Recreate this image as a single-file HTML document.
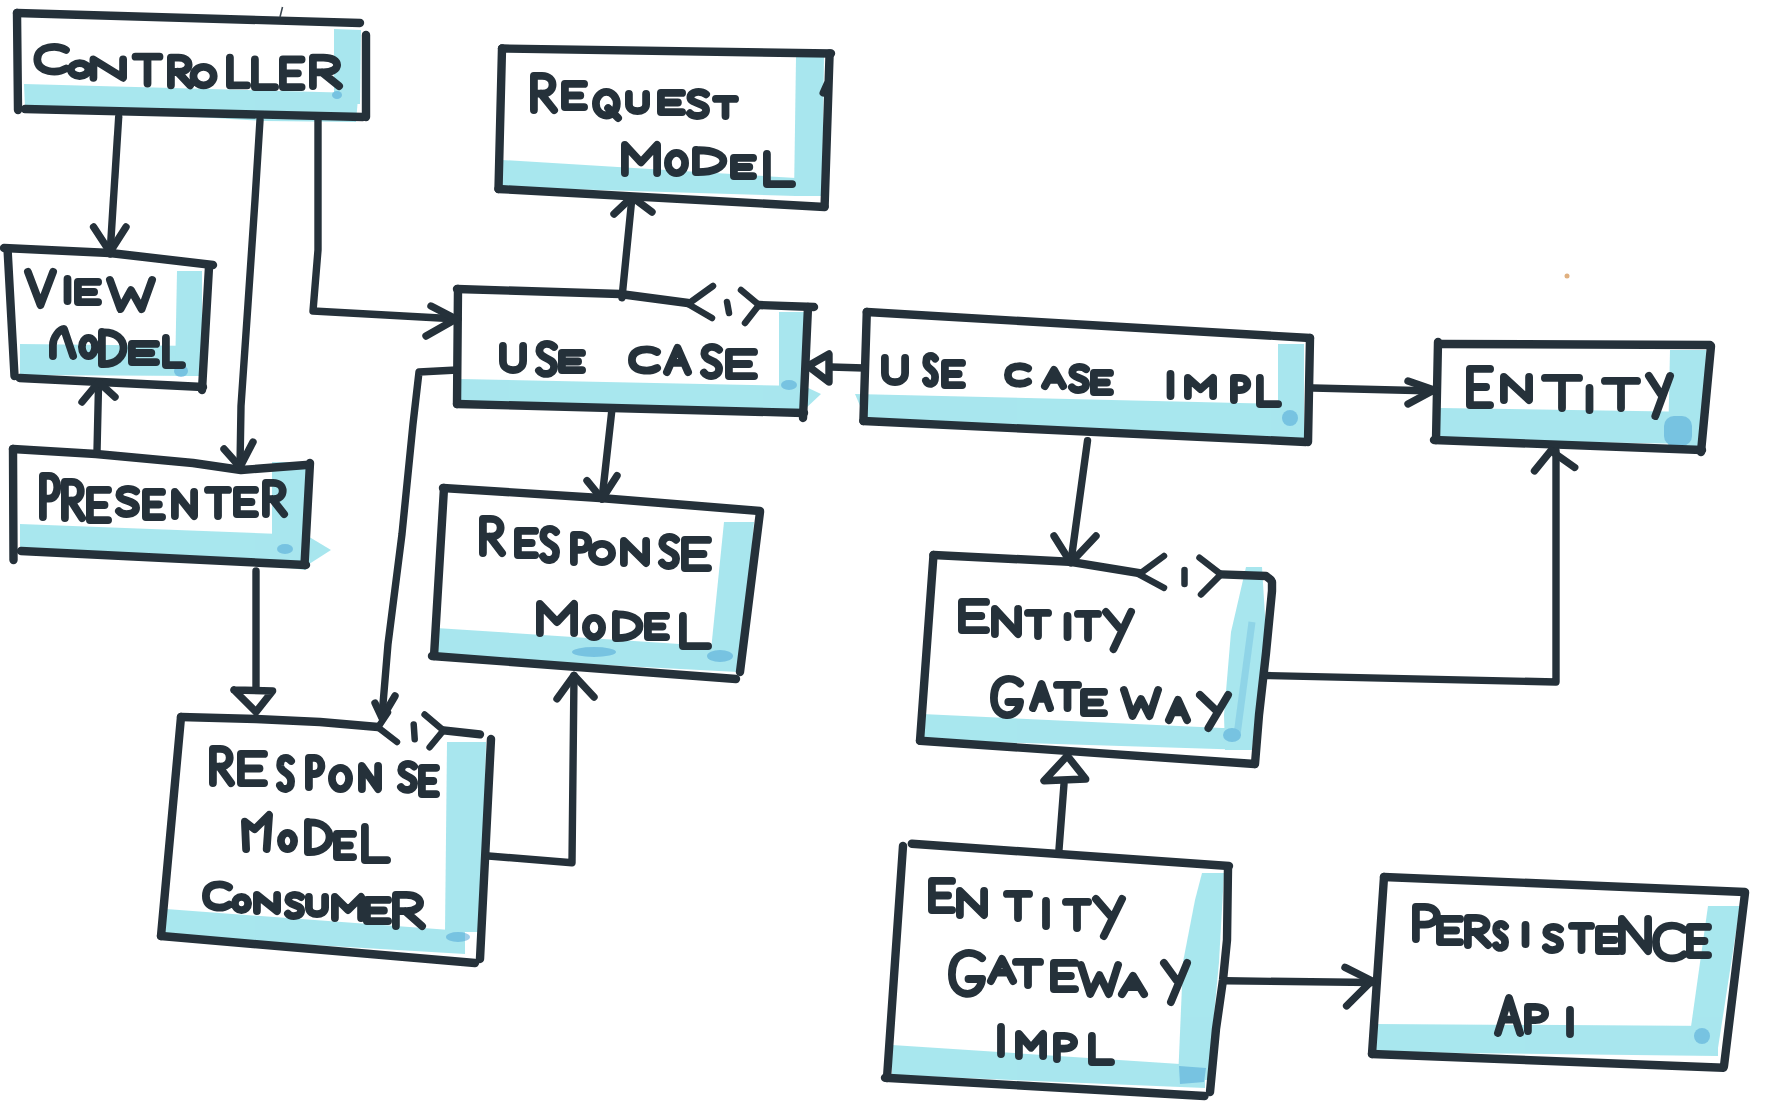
<!DOCTYPE html><html><head><meta charset="utf-8"><title>Clean Architecture sketch</title><style>html,body{margin:0;padding:0;background:#fff;width:1765px;height:1117px;overflow:hidden;font-family:"Liberation Sans",sans-serif}svg{display:block}</style></head><body><svg width="1765" height="1117" viewBox="0 0 1765 1117"><rect width="1765" height="1117" fill="#ffffff"/><g fill="#7fdbe6" opacity="0.68"><path d="M24,84 L357,93 L358,98 L356,122 L265,121 L25,107Z"/><path d="M334,29 L361,30 L360,104 L334,104Z"/><path d="M20,344 L200,346 L200,376 L20,375Z"/><path d="M177,271 L202,271 L202,376 L175,376Z"/><path d="M20,524 L306,535 L331,550 L306,566 L20,552Z"/><path d="M272,462 L306,462 L306,570 L272,566Z"/><path d="M502,160 L796,178 L796,196 L502,187Z"/><path d="M796,57 L824,57 L822,196 L794,196Z"/><path d="M460,379 L804,386 L821,394 L804,410 L460,402Z"/><path d="M779,312 L804,312 L804,390 L779,390Z"/><path d="M855,394 L1280,404 L1280,438 L866,420Z"/><path d="M1278,344 L1304,344 L1304,438 L1278,438Z"/><path d="M1440,408 L1700,412 L1700,444 L1440,440Z"/><path d="M1670,350 L1706,350 L1704,446 L1668,446Z"/><path d="M436,628 L710,646 L738,648 L738,672 L434,656Z"/><path d="M724,522 L754,522 L742,660 L710,660Z"/><path d="M166,909 L450,930 L465,930 L465,954 L163,936Z"/><path d="M447,742 L486,742 L482,932 L445,932Z"/><path d="M922,714 L1222,728 L1250,728 L1250,750 L922,740Z"/><path d="M1246,567 L1262,567 L1266,632 L1256,715 L1252,750 L1225,750 L1224,715 L1231,632Z"/><path d="M892,1045 L1180,1064 L1205,1064 L1205,1088 L892,1075Z"/><path d="M1202,873 L1224,873 L1219,962 L1208,1080 L1178,1080 L1183,962 L1195,900Z"/><path d="M1376,1024 L1718,1026 L1718,1056 L1375,1052Z"/><path d="M1708,906 L1740,906 L1718,1048 L1688,1048Z"/></g><g fill="#4fa6d8" opacity="0.55"><ellipse cx="337" cy="95" rx="5" ry="4"/><ellipse cx="181" cy="371" rx="7" ry="6"/><ellipse cx="285" cy="549" rx="8" ry="5"/><ellipse cx="789" cy="385" rx="8" ry="5"/><circle cx="1290" cy="418" r="8"/><rect x="1664" y="416" width="28" height="30" rx="10"/><ellipse cx="594" cy="652" rx="22" ry="5"/><ellipse cx="720" cy="656" rx="13" ry="6"/><ellipse cx="458" cy="937" rx="12" ry="5"/><path d="M1252,622 L1237,735" stroke="#4fa6d8" stroke-width="7" opacity="0.5"/><ellipse cx="1232" cy="735" rx="9" ry="7"/><path d="M1179,1066 L1206,1068 L1204,1082 L1180,1084Z"/><circle cx="1702" cy="1036" r="8"/></g><g fill="none" stroke="#25313a" stroke-linecap="round" stroke-linejoin="round"><path d="M17,13 L360,23" stroke-width="8.4"/><path d="M17,13 L18,110" stroke-width="8.4"/><path d="M25,109 L363,117" stroke-width="8.4"/><path d="M366,35 L366,117" stroke-width="8.4"/><path d="M4,248 L110,253 L213,265" stroke-width="8.4"/><path d="M7.7,252 L14.5,376" stroke-width="8.4"/><path d="M19.6,378 L203,387" stroke-width="8.4"/><path d="M209,267 L202,390" stroke-width="8.4"/><path d="M13,449 L96,454 L193,463 L241,470 L306,465" stroke-width="8.4"/><path d="M13,449 L13.5,560" stroke-width="8.4"/><path d="M21,551 L306,565" stroke-width="8.4"/><path d="M310,463 L304.5,565" stroke-width="8.4"/><path d="M827,84 L823,93" stroke-width="7"/><path d="M502,48.5 L831,53.5" stroke-width="8.4"/><path d="M502,48.5 L498.5,189" stroke-width="8.4"/><path d="M498.5,189 L824.6,207" stroke-width="8.4"/><path d="M829.6,53.5 L824.6,206" stroke-width="8.4"/><path d="M457,289 L620,294 L688,303" stroke-width="8.4"/><path d="M759,305 L814,307" stroke-width="8.4"/><path d="M458,289 L457,404" stroke-width="8.4"/><path d="M457,404 L804,413" stroke-width="8.4"/><path d="M808,307 L803,418" stroke-width="8.4"/><path d="M713,286 L688,304 L712,318" stroke-width="6.5"/><path d="M727,302 L729,313" stroke-width="6.5"/><path d="M741,290 L759,305 L745,323" stroke-width="6.5"/><path d="M866.8,312 L1310,338" stroke-width="8.4"/><path d="M866.8,312 L863.4,421" stroke-width="8.4"/><path d="M863.4,421 L1306,442" stroke-width="8.4"/><path d="M1310,338 L1308,442" stroke-width="8.4"/><path d="M1440,344 L1710,345" stroke-width="8.4"/><path d="M1438,342 L1436,440" stroke-width="8.4"/><path d="M1434,440 L1702,450" stroke-width="8.4"/><path d="M1711,346 L1701,452" stroke-width="8.4"/><path d="M443,488 L600,498 L760,511" stroke-width="8.4"/><path d="M444,488 L434,656" stroke-width="8.4"/><path d="M432,656 L736,679" stroke-width="8.4"/><path d="M760,512 L740,672" stroke-width="8.4"/><path d="M181,717 L256,719 L320,722 L378,727" stroke-width="8.4"/><path d="M443.5,730.4 L480,734.4" stroke-width="8.4"/><path d="M491,739 L480,959" stroke-width="8.4"/><path d="M181,717 L161,936" stroke-width="8.4"/><path d="M161,936 L475,963" stroke-width="8.4"/><path d="M388,712.5 L378,727.4 L397,742" stroke-width="6.5"/><path d="M413.7,724.4 L414.7,739.3" stroke-width="6.5"/><path d="M424.6,714.5 L443.5,730.4 L429.6,747.2" stroke-width="6.5"/><path d="M933.5,555 L1069,561.7 L1141,573.4" stroke-width="8.4"/><path d="M1221,574.4 L1266,576 L1271,580" stroke-width="8.4"/><path d="M933.5,555 L920,740.7" stroke-width="8.4"/><path d="M920,740.7 L1254.6,764" stroke-width="8.4"/><path d="M1272,582 L1272,591 L1266,653 L1259,715 L1255,764" stroke-width="8.4"/><path d="M1164,556 L1139,574.4 L1164,587.8" stroke-width="6.5"/><path d="M1184.5,570 L1184.5,584" stroke-width="6.5"/><path d="M1199.5,557.7 L1221,574.4 L1201,594.5" stroke-width="6.5"/><path d="M911.8,843.7 L1229,866" stroke-width="8.4"/><path d="M903,846 L887,1078" stroke-width="8.4"/><path d="M885,1077.8 L1204.5,1096" stroke-width="8.4"/><path d="M1228,868 L1227,940 L1223,980 L1216,1029 L1210,1092" stroke-width="8.4"/><path d="M1384,877 L1745,892" stroke-width="8.4"/><path d="M1384,877 L1372,1054" stroke-width="8.4"/><path d="M1372,1054 L1723.5,1067.7" stroke-width="8.4"/><path d="M1745,893 L1724,1066" stroke-width="8.4"/><path d="M118.7,117 L110,254" stroke-width="7.4"/><path d="M93.6,227 L110,252 L126,227" stroke-width="7.4"/><path d="M260,120 L255,200 L248,304 L241,406 L240,466" stroke-width="7.4"/><path d="M224,449 L240,467 L253,442" stroke-width="7.4"/><path d="M318,120 L318,250 L313,311 L458,319" stroke-width="7.4"/><path d="M431,306 L456,319 L426,336" stroke-width="7.4"/><path d="M97,452 L98.6,382" stroke-width="7.4"/><path d="M82,402 L98.6,382 L115,397" stroke-width="7.4"/><path d="M256,571 L256,690" stroke-width="7.4"/><path d="M234,690 L272.6,691 L256,712 L234,690" stroke-width="7.4"/><path d="M457,370 L419,372 L413,424 L402,534 L388,644 L382,716" stroke-width="7.4"/><path d="M375,703 L382,718 L395,696" stroke-width="7.4"/><path d="M622,297.7 L632,197" stroke-width="7.4"/><path d="M614,214 L632,197 L652,212" stroke-width="7.4"/><path d="M612,408.8 L602,499" stroke-width="7.4"/><path d="M587,480.7 L602,499 L617,475.7" stroke-width="7.4"/><path d="M831,367 L864,368" stroke-width="7.4"/><path d="M808,366 L829,354 L829,382 L808,366" stroke-width="7.4"/><path d="M1313,388 L1436,391" stroke-width="7.4"/><path d="M1408,381 L1434,390 L1408,404" stroke-width="7.4"/><path d="M1087.5,440.7 L1070.8,562.7" stroke-width="7.4"/><path d="M1054,536 L1070.8,562.7 L1096,536" stroke-width="7.4"/><path d="M1264.6,675.5 L1556,682 L1556,450.7" stroke-width="7.4"/><path d="M1534.5,470.8 L1551,450.7 L1574.7,467.4" stroke-width="7.4"/><path d="M488.6,856 L572,862.7 L574,675.4" stroke-width="7.4"/><path d="M557,698.8 L574,675.4 L594,697" stroke-width="7.4"/><path d="M1064,784 L1059,849.4" stroke-width="7.4"/><path d="M1067.3,755.7 L1044,780.8 L1085.7,779 L1067.3,755.7" stroke-width="7.4"/><path d="M1226,980.8 L1371.7,982.5" stroke-width="7.4"/><path d="M1345,967.4 L1371.7,980.8 L1346.6,1005.9" stroke-width="7.4"/><path d="M66,50 C57.4,44.9 37.3,45.4 37.3,59.2 C37.3,73.1 57.4,73.6 66,68.5  M88.4,69.6 C88.4,73.2 84.5,76.1 79.7,76.1 C74.8,76.1 70.9,73.2 70.9,69.6 C70.9,66.1 74.8,63.2 79.7,63.2 C84.5,63.2 88.4,66.1 88.4,69.6  M93.4,77.8 L93.4,59.5 L123.1,77.8 L123.1,59.5  M135.5,56.7 L159.5,56.7 M147.5,56.7 L147.5,83.5  M170.9,85.3 L170.9,57.6 L178.6,57.6 C192,57.6 192,72 178.6,72 L170.9,72 M177.6,72 L190.1,85.3  M213.7,76.1 C213.7,81.2 209.2,85.3 203.6,85.3 C197.9,85.3 193.4,81.2 193.4,76.1 C193.4,71 197.9,66.9 203.6,66.9 C209.2,66.9 213.7,71 213.7,76.1  M229.9,57.6 L229.9,85.3 L247.1,85.3  M254.9,59.5 L254.9,87.1 L275.1,87.1  M301.6,59.5 L282.9,59.5 L282.9,87.1 L301.6,87.1 M282.9,73.3 L297.9,73.3  M312.9,86.1 L312.9,57.6 L323.4,57.6 C341.7,57.6 341.7,72.4 323.4,72.4 L312.9,72.4 M322.1,72.4 L339.1,86.1 " stroke-width="7.8"/><path d="M27.9,271.9 L40.5,305.1 L53.1,271.9  M67.5,278.9 L67.5,301.1  M98.1,281.9 L77.9,281.9 L77.9,302.1 L98.1,302.1 M77.9,292 L94.1,292  M109.9,279.9 L120.5,309.1 L131,290.1 L141.6,309.1 L152.1,279.9 " stroke-width="7.8"/><path d="M52.9,356.1 L52.9,345.2 C52.9,337.1 60,328.9 64,328.9 L73.1,356.1  M95.1,347 C95.1,352 92.1,356.1 88.5,356.1 C84.9,356.1 81.9,352 81.9,347 C81.9,342 84.9,337.9 88.5,337.9 C92.1,337.9 95.1,342 95.1,347  M101.9,331.9 L101.9,364.1 M101.9,332.5 C130.8,330.6 130.8,365.4 101.9,364.1  M156.1,343.9 L131.9,343.9 L131.9,362.1 L156.1,362.1 M131.9,353 L151.3,353  M165.9,337.9 L165.9,365.1 L182.1,365.1 " stroke-width="7.8"/><path d="M42.9,517.1 L42.9,475.9 L49,475.9 C60.1,475.9 60.1,498.6 49,498.6 L42.9,498.6  M64.9,518.1 L64.9,481.9 L71.8,481.9 C83.8,481.9 83.8,500.7 71.8,500.7 L64.9,500.7 M70.9,500.7 L82.1,518.1  M108.1,489.9 L89.9,489.9 L89.9,520.1 L108.1,520.1 M89.9,505 L104.5,505  M136.1,491.4 C130.9,487.6 118.9,487.6 119.4,495.2 C120.3,501.5 136.1,500.2 136.1,507.8 C136.1,515.4 122.3,515.4 118.9,511.1  M162.1,491.9 L145.9,491.9 L145.9,517.1 L162.1,517.1 M145.9,504.5 L158.9,504.5  M174.9,516.1 L174.9,491.9 L194.1,516.1 L194.1,491.9  M207.9,489.9 L228.1,489.9 M218,489.9 L218,516.1  M255.1,489.9 L236.9,489.9 L236.9,514.1 L255.1,514.1 M236.9,502 L251.5,502  M265.9,514.1 L265.9,482.9 L273.2,482.9 C285.9,482.9 285.9,499.1 273.2,499.1 L265.9,499.1 M272.3,499.1 L284.1,514.1 " stroke-width="7.8"/><path d="M533.9,110.1 L533.9,75.9 L542,75.9 C556.1,75.9 556.1,93.7 542,93.7 L533.9,93.7 M541,93.7 L554.1,110.1  M584.1,83.9 L564.9,83.9 L564.9,107.1 L584.1,107.1 M564.9,95.5 L580.3,95.5  M616.8,103.7 C616.8,110.2 612.1,115.5 606.3,115.5 C600.6,115.5 595.9,110.2 595.9,103.7 C595.9,97.2 600.6,91.9 606.3,91.9 C612.1,91.9 616.8,97.2 616.8,103.7 M608.1,108.1 L618.1,118.1  M628.9,93.9 L628.9,104.6 C628.9,113.3 646.1,113.3 646.1,104.6 L646.1,93.9  M682.1,92.9 L660.9,92.9 L660.9,112.1 L682.1,112.1 M660.9,102.5 L677.9,102.5  M706.1,94.3 C701.2,90.7 689.9,90.7 690.4,98 C691.2,104 706.1,102.8 706.1,110 C706.1,117.3 693.1,117.3 689.9,113.2  M715.9,98.9 L735.1,98.9 M725.5,98.9 L725.5,116.1 " stroke-width="7.8"/><path d="M624.9,173.1 L624.9,144.9 L641,162.4 L657.1,144.9 L657.1,173.1  M685.1,163 C685.1,168.6 681.2,173.1 676.5,173.1 C671.8,173.1 667.9,168.6 667.9,163 C667.9,157.4 671.8,152.9 676.5,152.9 C681.2,152.9 685.1,157.4 685.1,163  M695.9,149.9 L695.9,172.1 M695.9,150.3 C732.6,149 732.6,173 695.9,172.1  M753.1,157.9 L733.9,157.9 L733.9,176.1 L753.1,176.1 M733.9,167 L749.3,167  M766.9,153.9 L766.9,184.1 L792.1,184.1 " stroke-width="7.8"/><path d="M502.9,345.9 L502.9,360.9 C502.9,373.2 523.1,373.2 523.1,360.9 L523.1,345.9  M554.1,346.9 C549.5,342.4 538.9,342.4 539.4,351.4 C540.1,359 554.1,357.5 554.1,366.6 C554.1,375.6 541.9,375.6 538.9,370.5  M582.1,352.9 L561.9,352.9 L561.9,370.1 L582.1,370.1 M561.9,361.5 L578.1,361.5  M657.1,352 C649.5,347.6 631.9,348 631.9,360 C631.9,372 649.5,372.4 657.1,368  M666.9,372.1 L677.5,347.9 L688.1,372.1 M671.1,362.9 L683.9,362.9  M719.1,349.8 C714.5,345.4 703.9,345.4 704.4,354.2 C705.1,361.5 719.1,360 719.1,368.8 C719.1,377.6 706.9,377.6 703.9,372.6  M754.1,351.9 L728.9,351.9 L728.9,376.1 L754.1,376.1 M728.9,364 L749.1,364 " stroke-width="7.8"/><path d="M884.9,357.9 L884.9,372.9 C884.9,385.2 905.1,385.2 905.1,372.9 L905.1,357.9  M935.1,358.7 C932.3,354.5 925.9,354.5 926.2,362.9 C926.6,370 935.1,368.6 935.1,377.1 C935.1,385.5 927.7,385.5 925.9,380.7  M962.1,362.9 L944.9,362.9 L944.9,385.1 L962.1,385.1 M944.9,374 L958.7,374  M1028.1,368.4 C1022,364.8 1007.9,365.2 1007.9,375 C1007.9,384.8 1022,385.2 1028.1,381.6  M1044.9,386.1 L1054,369.9 L1063.1,386.1 M1048.5,379.9 L1059.5,379.9  M1086.1,369.2 C1081.8,365.7 1071.9,365.7 1072.3,372.7 C1073,378.5 1086.1,377.3 1086.1,384.3 C1086.1,391.3 1074.7,391.3 1071.9,387.3  M1110.1,372.9 L1093.9,372.9 L1093.9,392.1 L1110.1,392.1 M1093.9,382.5 L1106.9,382.5  M1170.5,373.9 L1170.5,396.1  M1187.9,396.1 L1187.9,377.9 L1200.5,389.2 L1213.1,377.9 L1213.1,396.1  M1233.9,400.1 L1233.9,377.9 L1239.6,377.9 C1249.9,377.9 1249.9,390.1 1239.6,390.1 L1233.9,390.1  M1259.9,377.9 L1259.9,404.1 L1278.1,404.1 " stroke-width="7.8"/><path d="M1490.1,368.9 L1469.9,368.9 L1469.9,405.1 L1490.1,405.1 M1469.9,387 L1486.1,387  M1503.9,400.1 L1503.9,376.9 L1529.1,400.1 L1529.1,376.9  M1544.9,377.9 L1579.1,377.9 M1562,377.9 L1562,408.1  M1589.5,387.9 L1589.5,410.1  M1604.9,380.9 L1637.1,380.9 M1621,380.9 L1621,408.1  M1648.9,375.9 L1660.6,394 M1670.1,375.9 L1655.3,416.1 " stroke-width="7.8"/><path d="M482.9,553.1 L482.9,518.9 L490.6,518.9 C504,518.9 504,536.7 490.6,536.7 L482.9,536.7 M489.6,536.7 L502.1,553.1  M535.1,530.9 L517.9,530.9 L517.9,555.1 L535.1,555.1 M517.9,543 L531.7,543  M556.1,532 C552.1,527.3 542.9,527.3 543.3,536.7 C544,544.5 556.1,542.9 556.1,552.3 C556.1,561.7 545.5,561.7 542.9,556.4  M573.9,562.1 L573.9,534.9 L580,534.9 C591.1,534.9 591.1,549.9 580,549.9 L573.9,549.9  M612.1,553 C612.1,558 607.6,562.1 602,562.1 C596.4,562.1 591.9,558 591.9,553 C591.9,548 596.4,543.9 602,543.9 C607.6,543.9 612.1,548 612.1,553  M623.9,563.1 L623.9,540.9 L646.1,563.1 L646.1,540.9  M676.1,539.8 C671.8,535.4 661.9,535.4 662.3,544.2 C663,551.5 676.1,550 676.1,558.8 C676.1,567.6 664.7,567.6 661.9,562.6  M708.1,539.9 L684.9,539.9 L684.9,568.1 L708.1,568.1 M684.9,554 L703.5,554 " stroke-width="7.8"/><path d="M539.9,633.1 L539.9,603.9 L557,622 L574.1,603.9 L574.1,633.1  M602.1,627.5 C602.1,632.8 598.5,637.1 594,637.1 C589.5,637.1 585.9,632.8 585.9,627.5 C585.9,622.2 589.5,617.9 594,617.9 C598.5,617.9 602.1,622.2 602.1,627.5  M615.9,613.9 L615.9,638.1 M615.9,614.4 C647.4,612.9 647.4,639.1 615.9,638.1  M666.1,615.9 L647.9,615.9 L647.9,637.1 L666.1,637.1 M647.9,626.5 L662.5,626.5  M682.9,615.9 L682.9,646.1 L708.1,646.1 " stroke-width="7.8"/><path d="M212.9,783.1 L212.9,748.9 L220.2,748.9 C232.9,748.9 232.9,766.7 220.2,766.7 L212.9,766.7 M219.3,766.7 L231.1,783.1  M264.1,753.9 L240.9,753.9 L240.9,783.1 L264.1,783.1 M240.9,768.5 L259.5,768.5  M291.1,761 C287.7,756.3 279.9,756.3 280.2,765.7 C280.8,773.5 291.1,771.9 291.1,781.3 C291.1,790.7 282.1,790.7 279.9,785.4  M308.9,787.1 L308.9,757.9 L314.2,757.9 C323.8,757.9 323.8,774 314.2,774 L308.9,774  M349.1,778.5 C349.1,784.4 345.2,789.1 340.5,789.1 C335.8,789.1 331.9,784.4 331.9,778.5 C331.9,772.6 335.8,767.9 340.5,767.9 C345.2,767.9 349.1,772.6 349.1,778.5  M361.9,789.1 L361.9,765.9 L378.1,789.1 L378.1,765.9  M414.1,766.5 C410.1,762.6 400.9,762.6 401.3,770.5 C402,777 414.1,775.7 414.1,783.5 C414.1,791.4 403.5,791.4 400.9,787  M436.1,767.9 L421.9,767.9 L421.9,794.1 L436.1,794.1 M421.9,781 L433.3,781 " stroke-width="7.8"/><path d="M246.1,849.1 L244.9,821.7 L254.6,829.3 L269.1,814.9 L266.7,849.1  M294.1,841 C294.1,845.5 291.1,849.1 287.5,849.1 C283.9,849.1 280.9,845.5 280.9,841 C280.9,836.5 283.9,832.9 287.5,832.9 C291.1,832.9 294.1,836.5 294.1,841  M307.9,821.9 L307.9,852.1 M307.9,822.5 C336.8,820.7 336.8,853.3 307.9,852.1  M353.1,833.9 L336.9,833.9 L336.9,857.1 L353.1,857.1 M336.9,845.5 L349.9,845.5  M364.9,826.9 L364.9,860.1 L387.1,860.1 " stroke-width="7.8"/><path d="M229.1,887.3 C222.1,882.4 205.9,882.9 205.9,896 C205.9,909.1 222.1,909.6 229.1,904.7  M248.1,903.5 C248.1,907.1 245.1,910.1 241.5,910.1 C237.9,910.1 234.9,907.1 234.9,903.5 C234.9,899.9 237.9,896.9 241.5,896.9 C245.1,896.9 248.1,899.9 248.1,903.5  M256.9,911.1 L256.9,894.9 L277.1,911.1 L277.1,894.9  M301.1,897 C297.1,893.8 287.9,893.8 288.3,900.2 C289,905.5 301.1,904.4 301.1,910.8 C301.1,917.2 290.5,917.2 287.9,913.6  M308.9,896.9 L308.9,907.6 C308.9,916.3 325.1,916.3 325.1,907.6 L325.1,896.9  M334.9,918.1 L334.9,896.9 L348,910 L361.1,896.9 L361.1,918.1  M388.1,899.9 L366.9,899.9 L366.9,921.1 L388.1,921.1 M366.9,910.5 L383.9,910.5  M395.9,926.1 L395.9,894.9 L406.4,894.9 C424.7,894.9 424.7,911.1 406.4,911.1 L395.9,911.1 M405.1,911.1 L422.1,926.1 " stroke-width="7.8"/><path d="M986.1,601.9 L961.9,601.9 L961.9,630.1 L986.1,630.1 M961.9,616 L981.3,616  M994.9,634.1 L994.9,608.9 L1018.1,634.1 L1018.1,608.9  M1027.9,612.9 L1048.1,612.9 M1038,612.9 L1038,636.1  M1067.5,615.9 L1067.5,637.1  M1077.9,613.9 L1098.1,613.9 M1088,613.9 L1088,638.1  M1105.9,611.9 L1119.8,628.6 M1131.1,611.9 L1113.5,649.1 " stroke-width="7.8"/><path d="M1020.1,683.5 C1012.2,675.5 993.9,676.3 993.9,698 C993.9,720.1 1018.3,720.1 1020.1,702 L1008.3,702  M1032.9,708.1 L1041.5,683.9 L1050.1,708.1 M1036.3,698.9 L1046.7,698.9  M1056.9,684.9 L1078.1,684.9 M1067.5,684.9 L1067.5,708.1  M1104.1,691.9 L1083.9,691.9 L1083.9,713.1 L1104.1,713.1 M1083.9,702.5 L1100.1,702.5  M1123.9,689.9 L1132.5,716.1 L1141,699.1 L1149.5,716.1 L1158.1,689.9  M1168.9,720.1 L1178,699.9 L1187.1,720.1 M1172.5,712.4 L1183.5,712.4  M1199.9,694.9 L1215.4,709.8 M1228.1,694.9 L1208.4,728.1 " stroke-width="7.8"/><path d="M952.1,880.9 L931.9,880.9 L931.9,910.1 L952.1,910.1 M931.9,895.5 L948.1,895.5  M959.9,915.1 L959.9,890.9 L984.1,915.1 L984.1,890.9  M1006.9,893.9 L1029.1,893.9 M1018,893.9 L1018,918.1  M1046,900.9 L1046,926.1  M1065.9,901.9 L1088.1,901.9 M1077,901.9 L1077,928.1  M1095.9,898.9 L1110.3,915.6 M1122.1,898.9 L1103.8,936.1 " stroke-width="7.8"/><path d="M982.1,958.2 C973,949.2 951.9,950.1 951.9,974.5 C951.9,999.4 980,999.4 982.1,979 L968.5,979  M990.9,981.1 L1002,958.9 L1013.1,981.1 M995.3,972.7 L1008.7,972.7  M1015.9,961.9 L1040.1,961.9 M1028,961.9 L1028,985.1  M1075.1,962.9 L1053.9,962.9 L1053.9,989.1 L1075.1,989.1 M1053.9,976 L1070.9,976  M1080.9,964.9 L1090.2,994.1 L1099.5,975.1 L1108.8,994.1 L1118.1,964.9  M1121.9,994.1 L1133,975.9 L1144.1,994.1 M1126.3,987.2 L1139.7,987.2  M1163.9,962.9 L1176.7,980.5 M1187.1,962.9 L1170.9,1002.1 " stroke-width="7.8"/><path d="M1001,1026.9 L1001,1054.1  M1018.9,1056.1 L1018.9,1033.9 L1031,1047.7 L1043.1,1033.9 L1043.1,1056.1  M1056.9,1059.1 L1056.9,1035.9 L1064.2,1035.9 C1077.5,1035.9 1077.5,1048.7 1064.2,1048.7 L1056.9,1048.7  M1091.9,1035.9 L1091.9,1062.1 L1111.1,1062.1 " stroke-width="7.8"/><path d="M1415.9,939.1 L1415.9,906.9 L1424.8,906.9 C1441,906.9 1441,924.6 1424.8,924.6 L1415.9,924.6  M1460.1,918.9 L1439.9,918.9 L1439.9,942.1 L1460.1,942.1 M1439.9,930.5 L1456.1,930.5  M1467.9,945.1 L1467.9,917.9 L1476,917.9 C1490.1,917.9 1490.1,932 1476,932 L1467.9,932 M1475,932 L1488.1,945.1  M1505.1,926.3 C1502.3,922.7 1495.9,922.7 1496.2,930 C1496.6,936 1505.1,934.8 1505.1,942 C1505.1,949.3 1497.7,949.3 1495.9,945.2  M1525.5,924.9 L1525.5,944.1  M1560.1,929.2 C1555.8,925.7 1545.9,925.7 1546.3,932.7 C1547,938.5 1560.1,937.3 1560.1,944.3 C1560.1,951.3 1548.7,951.3 1545.9,947.3  M1571.9,925.9 L1591.1,925.9 M1581.5,925.9 L1581.5,950.1  M1618.1,928.9 L1598.9,928.9 L1598.9,951.1 L1618.1,951.1 M1598.9,940 L1614.3,940  M1621.9,951.1 L1621.9,918.9 L1648.1,951.1 L1648.1,918.9  M1684.1,929.7 C1675.6,922.8 1655.9,923.5 1655.9,942 C1655.9,960.5 1675.6,961.2 1684.1,954.3  M1708.1,926.9 L1689.9,926.9 L1689.9,955.1 L1708.1,955.1 M1689.9,941 L1704.5,941 " stroke-width="7.8"/><path d="M1497.9,1033.1 L1509,997.9 L1520.1,1033.1 M1502.3,1019.7 L1515.7,1019.7  M1527.9,1031.1 L1527.9,1006.9 L1535.2,1006.9 C1548.5,1006.9 1548.5,1020.2 1535.2,1020.2 L1527.9,1020.2  M1570,1009.9 L1570,1034.1 " stroke-width="7.8"/></g><circle cx="1567" cy="276" r="2.5" fill="#e0b080"/><path d="M282.5,7 L280,17" stroke="#3a4650" stroke-width="1.5"/></svg></body></html>
